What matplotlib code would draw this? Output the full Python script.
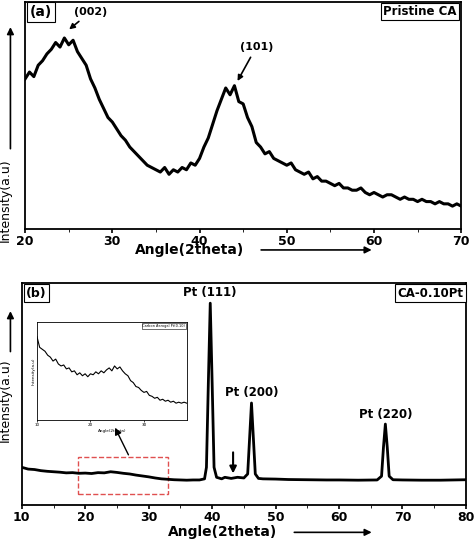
import numpy as np
import matplotlib
matplotlib.use("Agg")
import matplotlib.pyplot as plt
from matplotlib.patches import Rectangle, FancyArrowPatch

plt.rcParams['font.family'] = ['DejaVu Sans']

# ---- panel (a) data ----
a_y = [.66, .69, .67, .72, .74, .77, .79, .82, .80, .84, .81, .83, .78, .75, .72, .66, .62, .57, .53, .49,
       .47, .44, .41, .39, .36, .34, .32, .30, .28, .27, .26, .25, .27, .24, .26, .25, .27, .26, .29, .28,
       .31, .36, .40, .46, .52, .57, .62, .59, .63, .56, .55, .49, .45, .38, .36, .33, .34, .31, .30, .29,
       .28, .29, .26, .25, .24, .25, .22, .23, .21, .21, .20, .19, .20, .18, .18, .17, .17, .18, .16, .15,
       .16, .15, .14, .15, .15, .14, .13, .14, .13, .13, .12, .13, .12, .12, .11, .12, .11, .11, .10, .11, .10]
a_x = np.linspace(20, 70, len(a_y))

# ---- panel (b) data ----
b_x = [10, 11, 12, 13, 14, 15, 16, 17, 18, 19, 20, 21, 22, 23, 24, 25, 26, 27, 28, 29, 30, 31, 32, 33, 34, 35,
       36, 37, 38, 38.8, 39.1, 39.4, 39.7, 40.0, 40.3, 40.7, 41.5, 42, 43, 44, 45, 45.6, 45.9, 46.2, 46.5, 46.8,
       47.3, 48, 50, 52, 55, 58, 60, 63, 66, 66.7, 67.0, 67.3, 67.6, 67.9, 68.5, 70, 73, 76, 78, 80]
b_y = [.170, .162, .160, .155, .152, .150, .148, .145, .146, .143, .144, .142, .146, .145, .150, .147, .143,
       .140, .135, .131, .127, .122, .118, .116, .114, .113, .112, .113, .113, .118, .17, .55, .91, .55, .17,
       .125, .118, .125, .12, .125, .122, .14, .30, .46, .30, .14, .12, .118, .117, .115, .114, .113, .113,
       .112, .113, .13, .26, .365, .26, .13, .114, .113, .112, .112, .113, .114]

# ---- inset data ----
i_y = [.85, .74, .72, .70, .66, .64, .60, .62, .57, .55, .56, .52, .53, .49, .50, .46, .48, .45, .47, .44,
       .47, .46, .49, .47, .50, .48, .51, .53, .50, .55, .52, .54, .50, .47, .45, .40, .38, .34, .33, .30,
       .28, .29, .25, .24, .22, .23, .20, .21, .19, .20, .18, .19, .17, .18, .17, .18, .17]
i_x = np.linspace(10, 38, len(i_y))

fig = plt.figure(figsize=(4.74, 5.41), dpi=100)
bold = dict(fontweight='bold')

def farrow(p0, p1):
    fig.patches.append(FancyArrowPatch(p0, p1, transform=fig.transFigure,
                       arrowstyle='-|>', mutation_scale=10, color='black', lw=1.2))

# panel a
ax1 = fig.add_axes([0.053, 0.577, 0.920, 0.420])
ax1.plot(a_x, a_y, color='black', lw=2.2)
ax1.set_xlim(20, 70); ax1.set_ylim(0, 1)
ax1.set_yticks([])
ax1.set_xticks([20, 30, 40, 50, 60, 70])
ax1.set_xticks(np.arange(25, 70, 10), minor=True)
ax1.tick_params(axis='x', labelsize=9, width=1.2, direction='out', pad=1.5, length=3)
for t in ax1.get_xticklabels(): t.set_fontweight('bold')
for s in ax1.spines.values(): s.set_linewidth(1.3)
ax1.text(0.01, 0.985, '(a)', transform=ax1.transAxes, ha='left', va='top', fontsize=10, **bold,
         bbox=dict(boxstyle='square,pad=0.2', fc='white', ec='black', lw=0.8))
ax1.text(0.99, 0.985, 'Pristine CA', transform=ax1.transAxes, ha='right', va='top', fontsize=8.5, **bold,
         bbox=dict(boxstyle='square,pad=0.2', fc='white', ec='black', lw=0.8))
ax1.annotate('(002)', xy=(24.8, 0.87), xytext=(27.5, 0.955), fontsize=8, ha='center', va='center', **bold,
             arrowprops=dict(arrowstyle='-|>', color='black', lw=1.2))
ax1.annotate('(101)', xy=(44.2, 0.64), xytext=(46.5, 0.80), fontsize=8, ha='center', va='center', **bold,
             arrowprops=dict(arrowstyle='-|>', color='black', lw=1.2))
fig.text(0.012, 0.63, 'Intensity(a.u)', rotation=90, ha='center', va='center', fontsize=9)
farrow((0.022, 0.72), (0.022, 0.955))
fig.text(0.40, 0.538, 'Angle(2theta)', ha='center', va='center', fontsize=10, **bold)
farrow((0.545, 0.538), (0.79, 0.538))

# panel b
ax2 = fig.add_axes([0.046, 0.0665, 0.937, 0.410])
ax2.plot(b_x, b_y, color='black', lw=2.0)
ax2.set_xlim(10, 80); ax2.set_ylim(0, 1)
ax2.set_yticks([])
ax2.set_xticks(np.arange(10, 81, 10))
ax2.set_xticks(np.arange(15, 80, 10), minor=True)
ax2.tick_params(axis='x', labelsize=9, width=1.2, pad=1.5, length=3)
for t in ax2.get_xticklabels(): t.set_fontweight('bold')
for s in ax2.spines.values(): s.set_linewidth(1.3)
ax2.text(0.01, 0.985, '(b)', transform=ax2.transAxes, ha='left', va='top', fontsize=9, **bold,
         bbox=dict(boxstyle='square,pad=0.2', fc='white', ec='black', lw=0.8))
ax2.text(0.995, 0.985, 'CA-0.10Pt', transform=ax2.transAxes, ha='right', va='top', fontsize=8.5, **bold,
         bbox=dict(boxstyle='square,pad=0.2', fc='white', ec='black', lw=0.8))
ax2.text(39.7, 0.93, 'Pt (111)', ha='center', va='bottom', fontsize=8.5, **bold)
ax2.text(46.3, 0.48, 'Pt (200)', ha='center', va='bottom', fontsize=8.5, **bold)
ax2.text(67.3, 0.38, 'Pt (220)', ha='center', va='bottom', fontsize=8.5, **bold)
ax2.annotate('', xy=(43.3, 0.13), xytext=(43.3, 0.25),
             arrowprops=dict(arrowstyle='-|>', color='black', lw=1.5))
ax2.add_patch(Rectangle((18.8, 0.05), 14.2, 0.165, fill=False, ec='#e05050', ls='--', lw=1.0))
ax2.annotate('', xy=(24.5, 0.36), xytext=(27, 0.215),
             arrowprops=dict(arrowstyle='-|>', color='black', lw=1.0))
fig.text(0.012, 0.26, 'Intensity(a.u)', rotation=90, ha='center', va='center', fontsize=9)
farrow((0.022, 0.345), (0.022, 0.43))
fig.text(0.47, 0.016, 'Angle(2theta)', ha='center', va='center', fontsize=10, **bold)
farrow((0.615, 0.016), (0.79, 0.016))

# inset
ax3 = fig.add_axes([0.078, 0.224, 0.316, 0.181])
ax3.plot(i_x, i_y, color='black', lw=0.8)
ax3.set_xlim(10, 38); ax3.set_ylim(0, 1)
ax3.set_yticks([])
ax3.set_xticks([10, 20, 30])
ax3.tick_params(axis='x', labelsize=3, length=1.5, width=0.5, pad=1)
ax3.set_xlabel('Angle(2theta)', fontsize=3, labelpad=1)
ax3.set_ylabel('Intensity(a.u)', fontsize=3, labelpad=1)
for s in ax3.spines.values(): s.set_linewidth(0.6)
ax3.text(0.99, 0.98, 'Carbon Aerogel Pt(0.10)', transform=ax3.transAxes, ha='right', va='top', fontsize=2.5,
         bbox=dict(boxstyle='square,pad=0.2', fc='white', ec='black', lw=0.4))

fig.savefig('out.png', dpi=100)
